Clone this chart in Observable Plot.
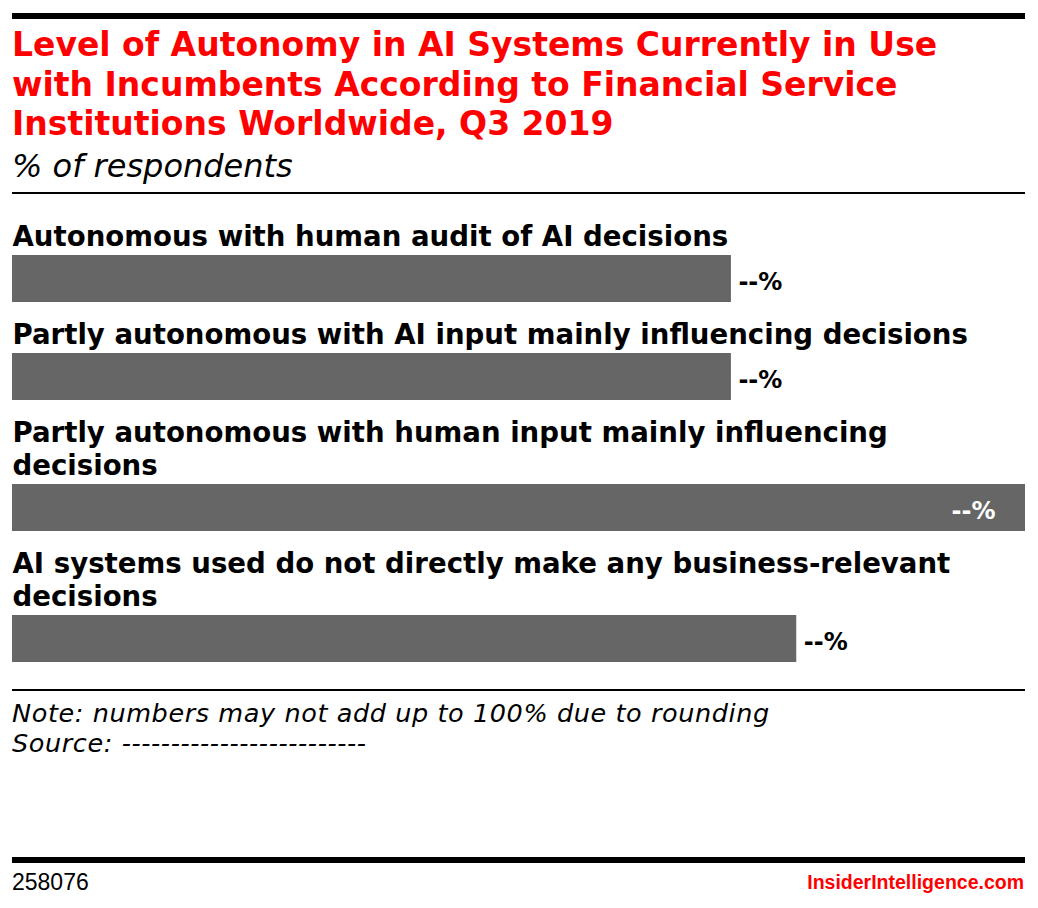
<!DOCTYPE html>
<html><head><meta charset="utf-8">
<script src="https://cdn.jsdelivr.net/npm/d3@7"></script>
<script src="https://cdn.jsdelivr.net/npm/@observablehq/plot@0.6"></script>
<style>
body{margin:0;background:#fff;}
#page{position:relative;width:1038px;height:908px;overflow:hidden;background:#fff;}
#frame{position:absolute;left:0;top:0;}
#rows{position:absolute;left:0;top:194px;}
#rows svg{display:block;}
</style></head><body>
<div id="page">
<svg id="frame" width="1038" height="908"></svg>
<div id="rows"></div>
</div>
<script>
// ---- data ----
const titleLines = [
  "Level of Autonomy in AI Systems Currently in Use",
  "with Incumbents According to Financial Service",
  "Institutions Worldwide, Q3 2019"
];
const subtitle = "% of respondents";
const categories = [
  "Autonomous with human audit of AI decisions",
  "Partly autonomous with AI input mainly influencing decisions",
  "Partly autonomous with human input mainly influencing decisions",
  "AI systems used do not directly make any business-relevant decisions"
];
const values = [22, 22, 31, 24];
const valueLabels = ["--%", "--%", "--%", "--%"];
const noteText = "Note: numbers may not add up to 100% due to rounding";
const sourceText = "Source: -------------------------";
const chartId = "258076";
const brand = "InsiderIntelligence.com";

// ---- layout constants ----
const W = 1038, L = 12, R = 1025;
const labelFont = "DejaVu Sans";
const labelSize = 27.6, lineH = 33, barH = 47, labelGap = 10;
const xMax = d3.max(values);

// ---- frame (title, rules, notes) ----
const ns = "http://www.w3.org/2000/svg";
const frame = document.getElementById("frame");
function el(tag, attrs, text) {
  const e = document.createElementNS(ns, tag);
  for (const k in attrs) e.setAttribute(k, attrs[k]);
  if (text != null) e.textContent = text;
  frame.appendChild(e);
  return e;
}
el("rect", {x: L, y: 13, width: R - L, height: 6, fill: "#000"});
titleLines.forEach((t, i) => el("text", {x: L, y: 56 + i * 39.5, fill: "#ff0000", "font-family": "DejaVu Sans", "font-weight": "bold", "font-size": 33}, t));
el("text", {x: L, y: 177, fill: "#000", "font-family": "DejaVu Sans", "font-style": "oblique", "font-weight": 200, "font-size": 32}, subtitle);
el("rect", {x: L, y: 192, width: R - L, height: 2, fill: "#000"});
el("rect", {x: L, y: 689, width: R - L, height: 2, fill: "#000"});
el("text", {x: L, y: 722, fill: "#000", "font-family": "DejaVu Sans", "font-style": "oblique", "font-size": 25.5, "letter-spacing": 0.6}, noteText);
el("text", {x: L, y: 752, fill: "#000", "font-family": "DejaVu Sans", "font-style": "oblique", "font-size": 25.5, "letter-spacing": 0.6}, sourceText);
el("rect", {x: L, y: 857, width: R - L, height: 6, fill: "#000"});
el("text", {x: L, y: 890, fill: "#000", "font-family": "Liberation Sans", "font-size": 23}, chartId);
el("text", {x: R - 1, y: 889, fill: "#ff0000", "font-family": "Liberation Sans", "font-weight": "bold", "font-size": 19.5, "text-anchor": "end"}, brand);

// ---- wrap labels by measured width ----
const ctx = document.createElement("canvas").getContext("2d");
ctx.font = `bold ${labelSize}px "${labelFont}"`;
function wrap(text, maxW) {
  const words = text.split(" ");
  const lines = [];
  let cur = "";
  for (const w of words) {
    const t = cur ? cur + " " + w : w;
    if (!cur || ctx.measureText(t).width <= maxW) cur = t;
    else { lines.push(cur); cur = w; }
  }
  lines.push(cur);
  return lines;
}

// ---- rows ----
const rows = document.getElementById("rows");
categories.forEach((cat, i) => {
  const lines = wrap(cat, R - L);
  const gapTop = i === 0 ? 18 : 8;
  const T = gapTop + lines.length * lineH + labelGap;
  const isMax = values[i] === xMax;
  const d = [{category: cat, wrapped: lines.join("\n"), value: values[i], label: valueLabels[i]}];
  const chart = Plot.plot({
    width: W, height: T + barH,
    marginTop: T, marginBottom: 0, marginLeft: L, marginRight: W - R,
    x: {domain: [0, xMax], axis: null},
    y: {domain: [cat], axis: null, padding: 0},
    style: {background: "transparent", overflow: "visible"},
    marks: [
      Plot.barX(d, {x: "value", y: "category", fill: "#666666"}),
      Plot.text(d, {x: 0, y: "category", text: "wrapped", textAnchor: "start", lineAnchor: "bottom",
        lineHeight: lineH / labelSize, dy: -(barH / 2 + labelGap),
        fontFamily: labelFont, fontWeight: "bold", fontSize: labelSize, fill: "#000"}),
      Plot.text(d, {x: "value", y: "category", text: "label", textAnchor: isMax ? "end" : "start",
        dx: isMax ? -30 : 7, dy: 3, lineAnchor: "middle",
        fontFamily: labelFont, fontWeight: "bold", fontSize: 24, fill: isMax ? "#fff" : "#000"})
    ]
  });
  rows.appendChild(chart);
});
</script>
</body></html>
